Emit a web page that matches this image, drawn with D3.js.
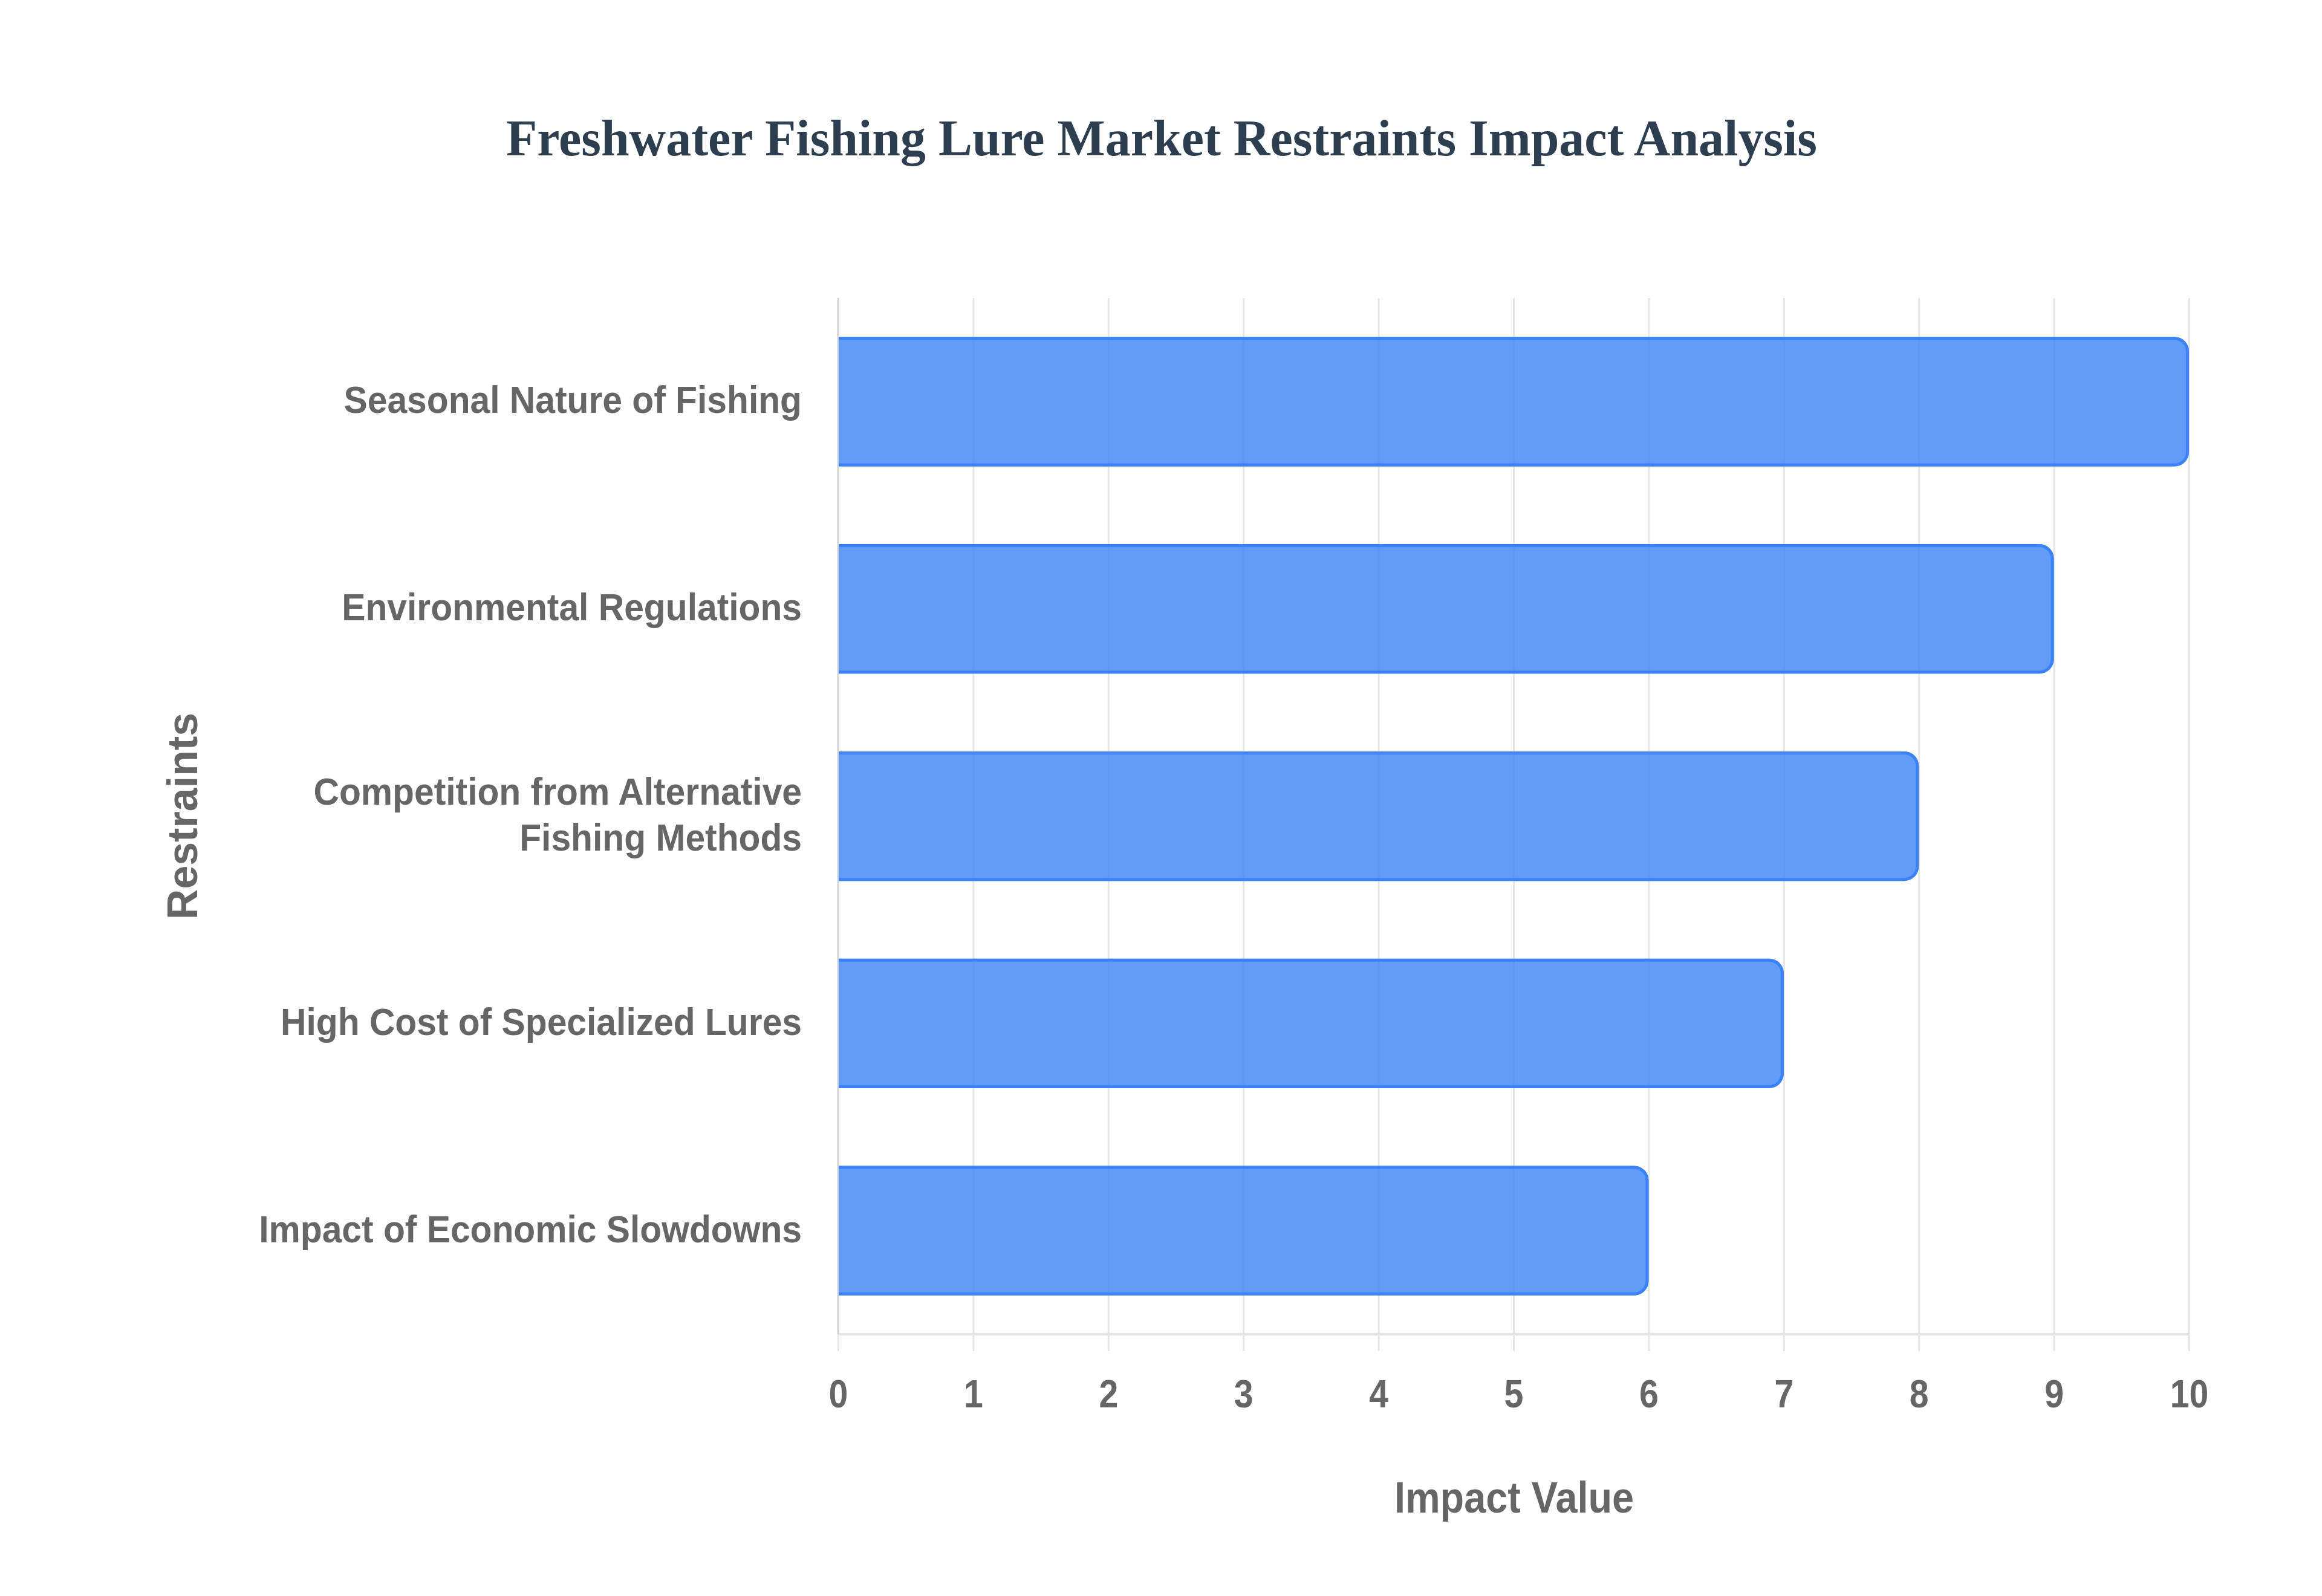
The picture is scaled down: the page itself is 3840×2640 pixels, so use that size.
<!DOCTYPE html>
<html>
<head>
<meta charset="utf-8">
<script src="https://cdn.jsdelivr.net/npm/d3@7"></script>
<style>
  html, body { margin: 0; padding: 0; background: #ffffff; }
  svg { display: block; }
</style>
</head>
<body>
<svg id="chart" width="3840" height="2640"></svg>
<script>
// ---- data ----
const categories = [
  "Seasonal Nature of Fishing",
  "Environmental Regulations",
  "Competition from Alternative Fishing Methods",
  "High Cost of Specialized Lures",
  "Impact of Economic Slowdowns"
];
const categoryLabelLines = [
  ["Seasonal Nature of Fishing"],
  ["Environmental Regulations"],
  ["Competition from Alternative", "Fishing Methods"],
  ["High Cost of Specialized Lures"],
  ["Impact of Economic Slowdowns"]
];
const impactValues = [10, 9, 8, 7, 6];
const xTickValues = [0, 1, 2, 3, 4, 5, 6, 7, 8, 9, 10];
const chartTitle = "Freshwater Fishing Lure Market Restraints Impact Analysis";
const xAxisTitle = "Impact Value";
const yAxisTitle = "Restraints";

// ---- layout ----
const W = 3840, H = 2640;
const plot = { left: 1386, right: 3620, top: 493, bottom: 2207 };
const sans = "'Liberation Sans', Arial, Helvetica, sans-serif";
const serif = "'Liberation Serif', 'Times New Roman', Times, serif";
const textColor = "#666666";
const sx = 0.933;

const svg = d3.select("#chart");
svg.append("rect").attr("width", W).attr("height", H).attr("fill", "#ffffff");

const x = d3.scaleLinear().domain([0, 10]).range([plot.left, plot.right]);
const y = d3.scaleBand().domain(categories).range([plot.top, plot.bottom]).padding(0);
const barFrac = 0.625;

// Title
svg.append("text")
  .attr("x", 1921).attr("y", 257)
  .attr("text-anchor", "middle")
  .attr("font-family", serif).attr("font-weight", "bold").attr("font-size", 84)
  .attr("fill", "#2c3e50")
  .attr("textLength", 2168).attr("lengthAdjust", "spacingAndGlyphs")
  .text(chartTitle);

// Grid lines (behind bars)
const grid = svg.append("g")
  .attr("transform", `translate(0,${plot.bottom})`)
  .call(d3.axisBottom(x).tickValues(xTickValues).tickSize(-(plot.bottom - plot.top)).tickFormat(""));
grid.select(".domain").remove();
grid.selectAll(".tick line").attr("stroke", "#e6e6e6").attr("stroke-width", 3);

// Tick marks + labels below the axis
const xAxis = svg.append("g")
  .attr("transform", `translate(0,${plot.bottom})`)
  .call(d3.axisBottom(x).tickValues(xTickValues).tickSize(28).tickFormat(d3.format("d")));
xAxis.select(".domain").attr("stroke", "#e3e3e3").attr("stroke-width", 4)
  .attr("d", `M${plot.left},0H${plot.right}`);
xAxis.selectAll(".tick line").attr("stroke", "#e6e6e6").attr("stroke-width", 3);
xAxis.selectAll(".tick text")
  .attr("y", 121).attr("dy", null)
  .attr("font-family", sans).attr("font-weight", "bold").attr("font-size", 65)
  .attr("fill", textColor)
  .attr("transform", `scale(0.88,1)`);

// Y axis border line
svg.append("line")
  .attr("x1", plot.left).attr("x2", plot.left)
  .attr("y1", plot.top).attr("y2", plot.bottom)
  .attr("stroke", "#d4d4d4").attr("stroke-width", 3);

// Bars
const r = 24, bw = 5;
const bars = svg.append("g");
categories.forEach((c, i) => {
  const v = impactValues[i];
  const bh = y.bandwidth() * barFrac;
  const y0 = y(c) + (y.bandwidth() - bh) / 2;
  const y1 = y0 + bh;
  const x0 = x(0) + 1;
  const x1 = x(v);
  const fillPath = `M${x0},${y0}H${x1 - r}A${r},${r} 0 0 1 ${x1},${y0 + r}V${y1 - r}A${r},${r} 0 0 1 ${x1 - r},${y1}H${x0}Z`;
  bars.append("path").attr("d", fillPath).attr("fill", "rgba(59,130,246,0.8)");
  const h = bw / 2;
  const ri = r - h;
  const strokePath = `M${x0},${y0 + h}H${x1 - h - ri}A${ri},${ri} 0 0 1 ${x1 - h},${y0 + h + ri}V${y1 - h - ri}A${ri},${ri} 0 0 1 ${x1 - h - ri},${y1 - h}H${x0}`;
  bars.append("path").attr("d", strokePath).attr("fill", "none")
    .attr("stroke", "#3b82f6").attr("stroke-width", bw);
});

// Y category labels
const yLab = svg.append("g");
categories.forEach((c, i) => {
  const lines = categoryLabelLines[i];
  const cy = y(c) + y.bandwidth() / 2;
  const lh = 76;
  const first = cy + 19 - (lines.length - 1) * lh / 2;
  const t = yLab.append("text")
    .attr("text-anchor", "end")
    .attr("font-family", sans).attr("font-weight", "bold").attr("font-size", 63)
    .attr("fill", textColor)
    .attr("transform", `translate(1326,0) scale(${sx},1)`);
  lines.forEach((ln, k) => {
    t.append("tspan").attr("x", 0).attr("y", first + k * lh).text(ln);
  });
});

// X axis title
svg.append("text")
  .attr("text-anchor", "middle")
  .attr("font-family", sans).attr("font-weight", "bold").attr("font-size", 72)
  .attr("fill", textColor)
  .attr("transform", `translate(2504,2502) scale(0.9,1)`)
  .text(xAxisTitle);

// Y axis title
svg.append("text")
  .attr("text-anchor", "middle")
  .attr("font-family", sans).attr("font-weight", "bold").attr("font-size", 70)
  .attr("fill", textColor)
  .attr("transform", `translate(326,1350) rotate(-90)`)
  .text(yAxisTitle);
</script>
</body>
</html>
